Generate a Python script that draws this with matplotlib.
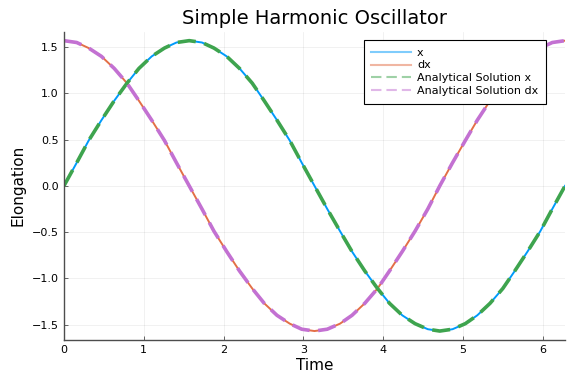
import matplotlib.pyplot as plt

# time samples (s) and values
time = [0.00, 0.16, 0.31, 0.47, 0.63, 0.79, 0.94, 1.10, 1.26, 1.41,
        1.57, 1.73, 1.88, 2.04, 2.20, 2.36, 2.51, 2.67, 2.83, 2.98,
        3.14, 3.30, 3.46, 3.61, 3.77, 3.93, 4.08, 4.24, 4.40, 4.56,
        4.71, 4.87, 5.03, 5.18, 5.34, 5.50, 5.65, 5.81, 5.97, 6.12, 6.28]

x = [0.00, 0.25, 0.49, 0.71, 0.92, 1.11, 1.27, 1.40, 1.49, 1.55,
     1.57, 1.55, 1.49, 1.40, 1.27, 1.11, 0.92, 0.71, 0.49, 0.25,
     0.00, -0.25, -0.49, -0.71, -0.92, -1.11, -1.27, -1.40, -1.49, -1.55,
     -1.57, -1.55, -1.49, -1.40, -1.27, -1.11, -0.92, -0.71, -0.49, -0.25, 0.00]

dx = [1.57, 1.55, 1.49, 1.40, 1.27, 1.11, 0.92, 0.71, 0.49, 0.25,
      0.00, -0.25, -0.49, -0.71, -0.92, -1.11, -1.27, -1.40, -1.49, -1.55,
      -1.57, -1.55, -1.49, -1.40, -1.27, -1.11, -0.92, -0.71, -0.49, -0.25,
      0.00, 0.25, 0.49, 0.71, 0.92, 1.11, 1.27, 1.40, 1.49, 1.55, 1.57]

x_exact = x
dx_exact = dx

fig = plt.figure(figsize=(5.76, 3.84), dpi=100)
ax = fig.add_axes([0.111, 0.115, 0.87, 0.802])

ax.plot(time, x, color='#009AFA', lw=1.4, label='x')
ax.plot(time, dx, color='#E36F47', lw=1.4, label='dx')
ax.plot(time, x_exact, color='#3EA44E', lw=2.6, ls=(0, (5, 2.4)), label='Analytical Solution x')
ax.plot(time, dx_exact, color='#C371D2', lw=2.6, ls=(0, (5, 2.4)), label='Analytical Solution dx')

ax.set_xlim(0, 6.28)
ax.set_ylim(-1.665, 1.665)
ax.set_xticks([0, 1, 2, 3, 4, 5, 6])
ax.set_yticks([-1.5, -1.0, -0.5, 0.0, 0.5, 1.0, 1.5])
ax.set_yticklabels(['\u22121.5', '\u22121.0', '\u22120.5', '0.0', '0.5', '1.0', '1.5'])
ax.grid(True, color='black', alpha=0.08, lw=0.5)
ax.spines['top'].set_visible(False)
ax.spines['right'].set_visible(False)
for s in ['left', 'bottom']:
    ax.spines[s].set_color('#4d4d4d')
    ax.spines[s].set_linewidth(1.0)
ax.tick_params(direction='in', length=3, width=0.6, color='#4d4d4d', labelsize=8, pad=4)

ax.set_title('Simple Harmonic Oscillator', fontsize=14)
ax.set_xlabel('Time', fontsize=11, labelpad=2)
ax.set_ylabel('Elongation', fontsize=11, labelpad=4)

leg = ax.legend(loc='upper right', bbox_to_anchor=(0.948, 0.896), bbox_transform=fig.transFigure,
                fontsize=8, frameon=True, fancybox=False, framealpha=1, edgecolor='black',
                handlelength=3.6, labelspacing=0.25, borderpad=0.7, handletextpad=0.5,
                borderaxespad=0)
leg.get_frame().set_linewidth(0.8)
for h in leg.get_lines():
    h.set_alpha(0.5)
    h.set_linewidth(1.5)

fig.savefig('out.png', dpi=100)
